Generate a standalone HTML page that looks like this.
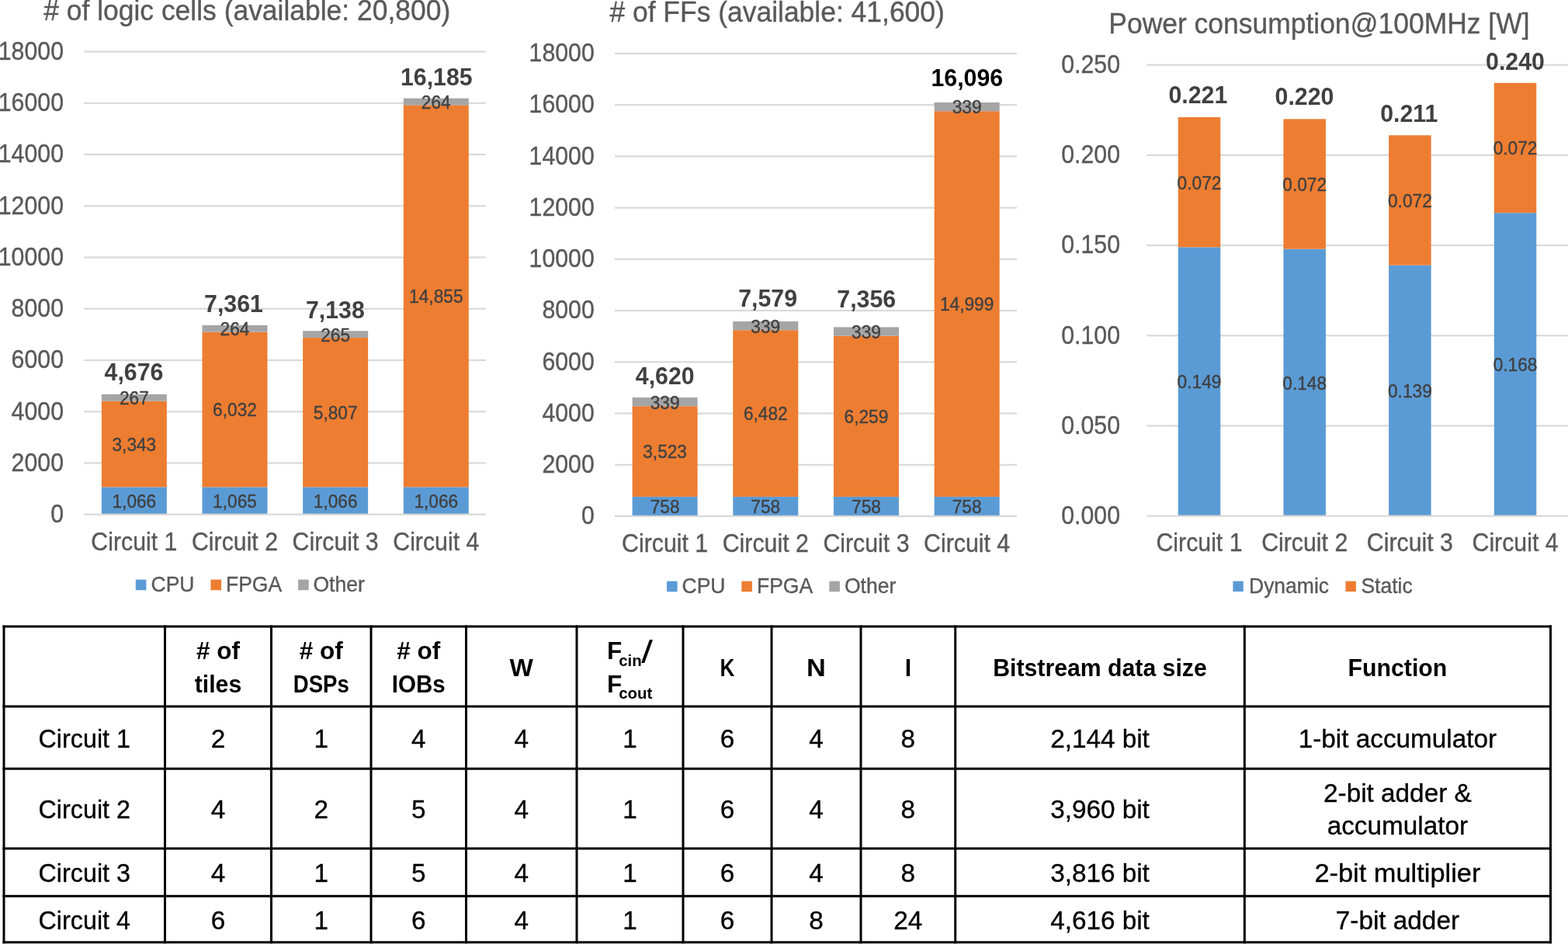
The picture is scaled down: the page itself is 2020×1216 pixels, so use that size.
<!DOCTYPE html><html><head><meta charset="utf-8"><title>FPGA resource charts</title><style>html,body{margin:0;padding:0;background:#fff;width:2020px;height:1216px;overflow:hidden}</style></head><body><svg width="2020" height="1216" viewBox="0 0 2020 1216" style="display:block" font-family="'Liberation Sans', Arial, Helvetica, sans-serif"><rect width="2020" height="1216" fill="#fff"/><text transform="translate(82.00 673.00) scale(1 1.11)" font-size="30.3" fill="#595959" text-anchor="end" stroke="#595959" stroke-width="0.35">0</text><rect x="108.00" y="595.36" width="518.00" height="2.20" fill="#D9D9D9"/><text transform="translate(82.00 606.76) scale(1 1.11)" font-size="30.3" fill="#595959" text-anchor="end" stroke="#595959" stroke-width="0.35">2000</text><rect x="108.00" y="529.12" width="518.00" height="2.20" fill="#D9D9D9"/><text transform="translate(82.00 540.52) scale(1 1.11)" font-size="30.3" fill="#595959" text-anchor="end" stroke="#595959" stroke-width="0.35">4000</text><rect x="108.00" y="462.88" width="518.00" height="2.20" fill="#D9D9D9"/><text transform="translate(82.00 474.28) scale(1 1.11)" font-size="30.3" fill="#595959" text-anchor="end" stroke="#595959" stroke-width="0.35">6000</text><rect x="108.00" y="396.64" width="518.00" height="2.20" fill="#D9D9D9"/><text transform="translate(82.00 408.04) scale(1 1.11)" font-size="30.3" fill="#595959" text-anchor="end" stroke="#595959" stroke-width="0.35">8000</text><rect x="108.00" y="330.40" width="518.00" height="2.20" fill="#D9D9D9"/><text transform="translate(82.00 341.80) scale(1 1.11)" font-size="30.3" fill="#595959" text-anchor="end" stroke="#595959" stroke-width="0.35">10000</text><rect x="108.00" y="264.16" width="518.00" height="2.20" fill="#D9D9D9"/><text transform="translate(82.00 275.56) scale(1 1.11)" font-size="30.3" fill="#595959" text-anchor="end" stroke="#595959" stroke-width="0.35">12000</text><rect x="108.00" y="197.92" width="518.00" height="2.20" fill="#D9D9D9"/><text transform="translate(82.00 209.32) scale(1 1.11)" font-size="30.3" fill="#595959" text-anchor="end" stroke="#595959" stroke-width="0.35">14000</text><rect x="108.00" y="131.68" width="518.00" height="2.20" fill="#D9D9D9"/><text transform="translate(82.00 143.08) scale(1 1.11)" font-size="30.3" fill="#595959" text-anchor="end" stroke="#595959" stroke-width="0.35">16000</text><rect x="108.00" y="65.44" width="518.00" height="2.20" fill="#D9D9D9"/><text transform="translate(82.00 76.84) scale(1 1.11)" font-size="30.3" fill="#595959" text-anchor="end" stroke="#595959" stroke-width="0.35">18000</text><text transform="translate(56.20 26.00) scale(1 1.04)" font-size="35.45" fill="#595959" text-anchor="start" stroke="#595959" stroke-width="0.35"># of logic cells (available: 20,800)</text><rect x="130.85" y="627.39" width="84.00" height="35.31" fill="#5B9BD5"/><rect x="130.85" y="516.67" width="84.00" height="110.72" fill="#ED7D31"/><rect x="130.85" y="507.83" width="84.00" height="8.84" fill="#A5A5A5"/><text transform="translate(172.85 653.95) scale(1 1.05)" font-size="22.7" fill="#404040" text-anchor="middle" stroke="#404040" stroke-width="0.35">1,066</text><text transform="translate(172.85 580.93) scale(1 1.05)" font-size="22.7" fill="#404040" text-anchor="middle" stroke="#404040" stroke-width="0.35">3,343</text><text transform="translate(172.85 521.15) scale(1 1.05)" font-size="22.7" fill="#404040" text-anchor="middle" stroke="#404040" stroke-width="0.35">267</text><text transform="translate(172.50 489.90) scale(1 1.065)" font-size="30.3" fill="#404040" text-anchor="middle" font-weight="bold">4,676</text><text transform="translate(172.85 708.60) scale(1 1.11)" font-size="30.3" fill="#595959" text-anchor="middle" stroke="#595959" stroke-width="0.35">Circuit 1</text><rect x="260.50" y="627.43" width="84.00" height="35.27" fill="#5B9BD5"/><rect x="260.50" y="427.65" width="84.00" height="199.78" fill="#ED7D31"/><rect x="260.50" y="418.90" width="84.00" height="8.74" fill="#A5A5A5"/><text transform="translate(302.50 653.96) scale(1 1.05)" font-size="22.7" fill="#404040" text-anchor="middle" stroke="#404040" stroke-width="0.35">1,065</text><text transform="translate(302.50 536.44) scale(1 1.05)" font-size="22.7" fill="#404040" text-anchor="middle" stroke="#404040" stroke-width="0.35">6,032</text><text transform="translate(302.50 432.18) scale(1 1.05)" font-size="22.7" fill="#404040" text-anchor="middle" stroke="#404040" stroke-width="0.35">264</text><text transform="translate(301.00 401.80) scale(1 1.065)" font-size="30.3" fill="#404040" text-anchor="middle" font-weight="bold">7,361</text><text transform="translate(302.50 708.60) scale(1 1.11)" font-size="30.3" fill="#595959" text-anchor="middle" stroke="#595959" stroke-width="0.35">Circuit 2</text><rect x="390.15" y="627.39" width="84.00" height="35.31" fill="#5B9BD5"/><rect x="390.15" y="435.07" width="84.00" height="192.33" fill="#ED7D31"/><rect x="390.15" y="426.29" width="84.00" height="8.78" fill="#A5A5A5"/><text transform="translate(432.15 653.95) scale(1 1.05)" font-size="22.7" fill="#404040" text-anchor="middle" stroke="#404040" stroke-width="0.35">1,066</text><text transform="translate(432.15 540.13) scale(1 1.05)" font-size="22.7" fill="#404040" text-anchor="middle" stroke="#404040" stroke-width="0.35">5,807</text><text transform="translate(432.15 439.58) scale(1 1.05)" font-size="22.7" fill="#404040" text-anchor="middle" stroke="#404040" stroke-width="0.35">265</text><text transform="translate(431.90 409.60) scale(1 1.065)" font-size="30.3" fill="#404040" text-anchor="middle" font-weight="bold">7,138</text><text transform="translate(432.15 708.60) scale(1 1.11)" font-size="30.3" fill="#595959" text-anchor="middle" stroke="#595959" stroke-width="0.35">Circuit 3</text><rect x="519.80" y="627.39" width="84.00" height="35.31" fill="#5B9BD5"/><rect x="519.80" y="135.40" width="84.00" height="492.00" fill="#ED7D31"/><rect x="519.80" y="126.65" width="84.00" height="8.74" fill="#A5A5A5"/><text transform="translate(561.80 653.95) scale(1 1.05)" font-size="22.7" fill="#404040" text-anchor="middle" stroke="#404040" stroke-width="0.35">1,066</text><text transform="translate(561.80 390.30) scale(1 1.05)" font-size="22.7" fill="#404040" text-anchor="middle" stroke="#404040" stroke-width="0.35">14,855</text><text transform="translate(561.80 139.92) scale(1 1.05)" font-size="22.7" fill="#404040" text-anchor="middle" stroke="#404040" stroke-width="0.35">264</text><text transform="translate(562.30 109.50) scale(1 1.065)" font-size="30.3" fill="#404040" text-anchor="middle" font-weight="bold">16,185</text><text transform="translate(561.80 708.60) scale(1 1.11)" font-size="30.3" fill="#595959" text-anchor="middle" stroke="#595959" stroke-width="0.35">Circuit 4</text><rect x="108.00" y="661.60" width="518.00" height="2.20" fill="#D9D9D9"/><rect x="174.80" y="746.60" width="13.60" height="13.60" fill="#5B9BD5"/><text transform="translate(194.50 761.70) scale(1 1.05)" font-size="26.5" fill="#595959" text-anchor="start" stroke="#595959" stroke-width="0.35">CPU</text><rect x="271.50" y="746.60" width="13.60" height="13.60" fill="#ED7D31"/><text transform="translate(291.00 761.70) scale(1 1.05)" font-size="26.5" fill="#595959" text-anchor="start" stroke="#595959" stroke-width="0.35">FPGA</text><rect x="384.10" y="746.60" width="13.60" height="13.60" fill="#A5A5A5"/><text transform="translate(403.50 761.70) scale(1 1.05)" font-size="26.5" fill="#595959" text-anchor="start" stroke="#595959" stroke-width="0.35">Other</text><text transform="translate(765.80 675.30) scale(1 1.11)" font-size="30.3" fill="#595959" text-anchor="end" stroke="#595959" stroke-width="0.35">0</text><rect x="792.00" y="597.67" width="518.00" height="2.20" fill="#D9D9D9"/><text transform="translate(765.80 609.07) scale(1 1.11)" font-size="30.3" fill="#595959" text-anchor="end" stroke="#595959" stroke-width="0.35">2000</text><rect x="792.00" y="531.44" width="518.00" height="2.20" fill="#D9D9D9"/><text transform="translate(765.80 542.84) scale(1 1.11)" font-size="30.3" fill="#595959" text-anchor="end" stroke="#595959" stroke-width="0.35">4000</text><rect x="792.00" y="465.21" width="518.00" height="2.20" fill="#D9D9D9"/><text transform="translate(765.80 476.61) scale(1 1.11)" font-size="30.3" fill="#595959" text-anchor="end" stroke="#595959" stroke-width="0.35">6000</text><rect x="792.00" y="398.98" width="518.00" height="2.20" fill="#D9D9D9"/><text transform="translate(765.80 410.38) scale(1 1.11)" font-size="30.3" fill="#595959" text-anchor="end" stroke="#595959" stroke-width="0.35">8000</text><rect x="792.00" y="332.75" width="518.00" height="2.20" fill="#D9D9D9"/><text transform="translate(765.80 344.15) scale(1 1.11)" font-size="30.3" fill="#595959" text-anchor="end" stroke="#595959" stroke-width="0.35">10000</text><rect x="792.00" y="266.52" width="518.00" height="2.20" fill="#D9D9D9"/><text transform="translate(765.80 277.92) scale(1 1.11)" font-size="30.3" fill="#595959" text-anchor="end" stroke="#595959" stroke-width="0.35">12000</text><rect x="792.00" y="200.29" width="518.00" height="2.20" fill="#D9D9D9"/><text transform="translate(765.80 211.69) scale(1 1.11)" font-size="30.3" fill="#595959" text-anchor="end" stroke="#595959" stroke-width="0.35">14000</text><rect x="792.00" y="134.06" width="518.00" height="2.20" fill="#D9D9D9"/><text transform="translate(765.80 145.46) scale(1 1.11)" font-size="30.3" fill="#595959" text-anchor="end" stroke="#595959" stroke-width="0.35">16000</text><rect x="792.00" y="67.83" width="518.00" height="2.20" fill="#D9D9D9"/><text transform="translate(765.80 79.23) scale(1 1.11)" font-size="30.3" fill="#595959" text-anchor="end" stroke="#595959" stroke-width="0.35">18000</text><text transform="translate(785.40 28.10) scale(1 1.04)" font-size="35.45" fill="#595959" text-anchor="start" stroke="#595959" stroke-width="0.35"># of FFs (available: 41,600)</text><rect x="814.60" y="639.90" width="84.00" height="25.10" fill="#5B9BD5"/><rect x="814.60" y="523.23" width="84.00" height="116.66" fill="#ED7D31"/><rect x="814.60" y="512.01" width="84.00" height="11.23" fill="#A5A5A5"/><text transform="translate(856.60 661.35) scale(1 1.05)" font-size="22.7" fill="#404040" text-anchor="middle" stroke="#404040" stroke-width="0.35">758</text><text transform="translate(856.60 590.47) scale(1 1.05)" font-size="22.7" fill="#404040" text-anchor="middle" stroke="#404040" stroke-width="0.35">3,523</text><text transform="translate(856.60 526.52) scale(1 1.05)" font-size="22.7" fill="#404040" text-anchor="middle" stroke="#404040" stroke-width="0.35">339</text><text transform="translate(856.70 495.00) scale(1 1.065)" font-size="30.3" fill="#404040" text-anchor="middle" font-weight="bold">4,620</text><text transform="translate(856.60 710.50) scale(1 1.11)" font-size="30.3" fill="#595959" text-anchor="middle" stroke="#595959" stroke-width="0.35">Circuit 1</text><rect x="944.28" y="639.90" width="84.00" height="25.10" fill="#5B9BD5"/><rect x="944.28" y="425.25" width="84.00" height="214.65" fill="#ED7D31"/><rect x="944.28" y="414.02" width="84.00" height="11.23" fill="#A5A5A5"/><text transform="translate(986.28 661.35) scale(1 1.05)" font-size="22.7" fill="#404040" text-anchor="middle" stroke="#404040" stroke-width="0.35">758</text><text transform="translate(986.28 541.47) scale(1 1.05)" font-size="22.7" fill="#404040" text-anchor="middle" stroke="#404040" stroke-width="0.35">6,482</text><text transform="translate(986.28 428.53) scale(1 1.05)" font-size="22.7" fill="#404040" text-anchor="middle" stroke="#404040" stroke-width="0.35">339</text><text transform="translate(989.10 395.40) scale(1 1.065)" font-size="30.3" fill="#404040" text-anchor="middle" font-weight="bold">7,579</text><text transform="translate(986.28 710.50) scale(1 1.11)" font-size="30.3" fill="#595959" text-anchor="middle" stroke="#595959" stroke-width="0.35">Circuit 2</text><rect x="1073.96" y="639.90" width="84.00" height="25.10" fill="#5B9BD5"/><rect x="1073.96" y="432.63" width="84.00" height="207.27" fill="#ED7D31"/><rect x="1073.96" y="421.41" width="84.00" height="11.23" fill="#A5A5A5"/><text transform="translate(1115.96 661.35) scale(1 1.05)" font-size="22.7" fill="#404040" text-anchor="middle" stroke="#404040" stroke-width="0.35">758</text><text transform="translate(1115.96 545.17) scale(1 1.05)" font-size="22.7" fill="#404040" text-anchor="middle" stroke="#404040" stroke-width="0.35">6,259</text><text transform="translate(1115.96 435.92) scale(1 1.05)" font-size="22.7" fill="#404040" text-anchor="middle" stroke="#404040" stroke-width="0.35">339</text><text transform="translate(1116.20 395.60) scale(1 1.065)" font-size="30.3" fill="#404040" text-anchor="middle" font-weight="bold">7,356</text><text transform="translate(1115.96 710.50) scale(1 1.11)" font-size="30.3" fill="#595959" text-anchor="middle" stroke="#595959" stroke-width="0.35">Circuit 3</text><rect x="1203.64" y="639.90" width="84.00" height="25.10" fill="#5B9BD5"/><rect x="1203.64" y="143.21" width="84.00" height="496.69" fill="#ED7D31"/><rect x="1203.64" y="131.98" width="84.00" height="11.23" fill="#A5A5A5"/><text transform="translate(1245.64 661.35) scale(1 1.05)" font-size="22.7" fill="#404040" text-anchor="middle" stroke="#404040" stroke-width="0.35">758</text><text transform="translate(1245.64 400.45) scale(1 1.05)" font-size="22.7" fill="#404040" text-anchor="middle" stroke="#404040" stroke-width="0.35">14,999</text><text transform="translate(1245.64 146.49) scale(1 1.05)" font-size="22.7" fill="#404040" text-anchor="middle" stroke="#404040" stroke-width="0.35">339</text><text transform="translate(1245.80 110.80) scale(1 1.065)" font-size="30.3" fill="#000000" text-anchor="middle" font-weight="bold">16,096</text><text transform="translate(1245.64 710.50) scale(1 1.11)" font-size="30.3" fill="#595959" text-anchor="middle" stroke="#595959" stroke-width="0.35">Circuit 4</text><rect x="792.00" y="663.90" width="518.00" height="2.20" fill="#D9D9D9"/><rect x="859.00" y="748.60" width="13.60" height="13.60" fill="#5B9BD5"/><text transform="translate(878.50 763.70) scale(1 1.05)" font-size="26.5" fill="#595959" text-anchor="start" stroke="#595959" stroke-width="0.35">CPU</text><rect x="955.30" y="748.60" width="13.60" height="13.60" fill="#ED7D31"/><text transform="translate(975.00 763.70) scale(1 1.05)" font-size="26.5" fill="#595959" text-anchor="start" stroke="#595959" stroke-width="0.35">FPGA</text><rect x="1068.30" y="748.60" width="13.60" height="13.60" fill="#A5A5A5"/><text transform="translate(1088.00 763.70) scale(1 1.05)" font-size="26.5" fill="#595959" text-anchor="start" stroke="#595959" stroke-width="0.35">Other</text><text transform="translate(1443.00 675.00) scale(1 1.11)" font-size="30.3" fill="#595959" text-anchor="end" stroke="#595959" stroke-width="0.35">0.000</text><rect x="1477.30" y="547.38" width="542.70" height="2.20" fill="#D9D9D9"/><text transform="translate(1443.00 558.78) scale(1 1.11)" font-size="30.3" fill="#595959" text-anchor="end" stroke="#595959" stroke-width="0.35">0.050</text><rect x="1477.30" y="431.16" width="542.70" height="2.20" fill="#D9D9D9"/><text transform="translate(1443.00 442.56) scale(1 1.11)" font-size="30.3" fill="#595959" text-anchor="end" stroke="#595959" stroke-width="0.35">0.100</text><rect x="1477.30" y="314.94" width="542.70" height="2.20" fill="#D9D9D9"/><text transform="translate(1443.00 326.34) scale(1 1.11)" font-size="30.3" fill="#595959" text-anchor="end" stroke="#595959" stroke-width="0.35">0.150</text><rect x="1477.30" y="198.72" width="542.70" height="2.20" fill="#D9D9D9"/><text transform="translate(1443.00 210.12) scale(1 1.11)" font-size="30.3" fill="#595959" text-anchor="end" stroke="#595959" stroke-width="0.35">0.200</text><rect x="1477.30" y="82.50" width="542.70" height="2.20" fill="#D9D9D9"/><text transform="translate(1443.00 93.90) scale(1 1.11)" font-size="30.3" fill="#595959" text-anchor="end" stroke="#595959" stroke-width="0.35">0.250</text><text transform="translate(1428.30 43.10) scale(1 1.04)" font-size="35.45" fill="#595959" text-anchor="start" stroke="#595959" stroke-width="0.35">Power consumption@100MHz [W]</text><rect x="1517.75" y="318.36" width="54.50" height="346.34" fill="#5B9BD5"/><rect x="1517.75" y="151.01" width="54.50" height="167.36" fill="#ED7D31"/><text transform="translate(1545.00 500.43) scale(1 1.05)" font-size="22.7" fill="#404040" text-anchor="middle" stroke="#404040" stroke-width="0.35">0.149</text><text transform="translate(1545.00 243.59) scale(1 1.05)" font-size="22.7" fill="#404040" text-anchor="middle" stroke="#404040" stroke-width="0.35">0.072</text><text transform="translate(1543.40 133.10) scale(1 1.065)" font-size="30.3" fill="#404040" text-anchor="middle" font-weight="bold">0.221</text><text transform="translate(1545.00 710.00) scale(1 1.11)" font-size="30.3" fill="#595959" text-anchor="middle" stroke="#595959" stroke-width="0.35">Circuit 1</text><rect x="1653.43" y="320.69" width="54.50" height="344.01" fill="#5B9BD5"/><rect x="1653.43" y="153.33" width="54.50" height="167.36" fill="#ED7D31"/><text transform="translate(1680.68 501.59) scale(1 1.05)" font-size="22.7" fill="#404040" text-anchor="middle" stroke="#404040" stroke-width="0.35">0.148</text><text transform="translate(1680.68 245.91) scale(1 1.05)" font-size="22.7" fill="#404040" text-anchor="middle" stroke="#404040" stroke-width="0.35">0.072</text><text transform="translate(1680.50 135.40) scale(1 1.065)" font-size="30.3" fill="#404040" text-anchor="middle" font-weight="bold">0.220</text><text transform="translate(1680.68 710.00) scale(1 1.11)" font-size="30.3" fill="#595959" text-anchor="middle" stroke="#595959" stroke-width="0.35">Circuit 2</text><rect x="1789.11" y="341.61" width="54.50" height="323.09" fill="#5B9BD5"/><rect x="1789.11" y="174.25" width="54.50" height="167.36" fill="#ED7D31"/><text transform="translate(1816.36 512.05) scale(1 1.05)" font-size="22.7" fill="#404040" text-anchor="middle" stroke="#404040" stroke-width="0.35">0.139</text><text transform="translate(1816.36 266.83) scale(1 1.05)" font-size="22.7" fill="#404040" text-anchor="middle" stroke="#404040" stroke-width="0.35">0.072</text><text transform="translate(1815.20 156.70) scale(1 1.065)" font-size="30.3" fill="#404040" text-anchor="middle" font-weight="bold">0.211</text><text transform="translate(1816.36 710.00) scale(1 1.11)" font-size="30.3" fill="#595959" text-anchor="middle" stroke="#595959" stroke-width="0.35">Circuit 3</text><rect x="1924.79" y="274.20" width="54.50" height="390.50" fill="#5B9BD5"/><rect x="1924.79" y="106.84" width="54.50" height="167.36" fill="#ED7D31"/><text transform="translate(1952.04 478.35) scale(1 1.05)" font-size="22.7" fill="#404040" text-anchor="middle" stroke="#404040" stroke-width="0.35">0.168</text><text transform="translate(1952.04 199.42) scale(1 1.05)" font-size="22.7" fill="#404040" text-anchor="middle" stroke="#404040" stroke-width="0.35">0.072</text><text transform="translate(1952.00 89.60) scale(1 1.065)" font-size="30.3" fill="#404040" text-anchor="middle" font-weight="bold">0.240</text><text transform="translate(1952.04 710.00) scale(1 1.11)" font-size="30.3" fill="#595959" text-anchor="middle" stroke="#595959" stroke-width="0.35">Circuit 4</text><rect x="1477.30" y="663.60" width="542.70" height="2.20" fill="#D9D9D9"/><rect x="1588.40" y="748.60" width="13.40" height="13.40" fill="#5B9BD5"/><text transform="translate(1609.00 763.70) scale(1 1.05)" font-size="26.5" fill="#595959" text-anchor="start" stroke="#595959" stroke-width="0.35">Dynamic</text><rect x="1733.50" y="748.60" width="13.40" height="13.40" fill="#ED7D31"/><text transform="translate(1753.40 763.70) scale(1 1.05)" font-size="26.5" fill="#595959" text-anchor="start" stroke="#595959" stroke-width="0.35">Static</text><g font-family="'Liberation Sans', Arial, sans-serif" fill="#000"><rect x="3.50" y="805.50" width="3" height="409.80" fill="#000"/><rect x="211.00" y="805.50" width="3" height="409.80" fill="#000"/><rect x="348.00" y="805.50" width="3" height="409.80" fill="#000"/><rect x="476.50" y="805.50" width="3" height="409.80" fill="#000"/><rect x="599.00" y="805.50" width="3" height="409.80" fill="#000"/><rect x="741.50" y="805.50" width="3" height="409.80" fill="#000"/><rect x="878.50" y="805.50" width="3" height="409.80" fill="#000"/><rect x="992.50" y="805.50" width="3" height="409.80" fill="#000"/><rect x="1107.50" y="805.50" width="3" height="409.80" fill="#000"/><rect x="1229.20" y="805.50" width="3" height="409.80" fill="#000"/><rect x="1601.80" y="805.50" width="3" height="409.80" fill="#000"/><rect x="1996.00" y="805.50" width="3" height="409.80" fill="#000"/><rect x="3.50" y="805.50" width="1995.50" height="3" fill="#000"/><rect x="3.50" y="908.50" width="1995.50" height="3" fill="#000"/><rect x="3.50" y="988.70" width="1995.50" height="3" fill="#000"/><rect x="3.50" y="1091.50" width="1995.50" height="3" fill="#000"/><rect x="3.50" y="1152.80" width="1995.50" height="3" fill="#000"/><rect x="3.50" y="1212.30" width="1995.50" height="3" fill="#000"/><text x="281.00" y="849.20" font-size="31.5" text-anchor="middle" font-weight="bold"># of</text><text transform="translate(281.00 891.60) scale(0.96 1)" font-size="31.5" text-anchor="middle" font-weight="bold">tiles</text><text x="413.75" y="849.20" font-size="31.5" text-anchor="middle" font-weight="bold"># of</text><text transform="translate(413.75 891.60) scale(0.875 1)" font-size="31.5" text-anchor="middle" font-weight="bold">DSPs</text><text x="539.25" y="849.20" font-size="31.5" text-anchor="middle" font-weight="bold"># of</text><text transform="translate(539.25 891.60) scale(0.937 1)" font-size="31.5" text-anchor="middle" font-weight="bold">IOBs</text><text transform="translate(671.75 870.50) scale(1.02 1)" font-size="31.5" text-anchor="middle" font-weight="bold">W</text><text x="782.00" y="849.3" font-size="31.5" font-weight="bold">F</text><text x="797.20" y="857.6" font-size="20.4" font-weight="bold">cin</text><text transform="translate(826.00 853.8) scale(1.35 1)" font-size="40">/</text><text x="782.00" y="891.6" font-size="31.5" font-weight="bold">F</text><text x="797.20" y="900.4" font-size="20.4" font-weight="bold">cout</text><text transform="translate(937.00 870.50) scale(0.83 1)" font-size="31.5" text-anchor="middle" font-weight="bold">K</text><text transform="translate(1051.50 870.50) scale(1.09 1)" font-size="31.5" text-anchor="middle" font-weight="bold">N</text><text transform="translate(1169.85 870.50) scale(0.96 1)" font-size="31.5" text-anchor="middle" font-weight="bold">I</text><text transform="translate(1417.00 870.50) scale(0.96 1)" font-size="31.5" text-anchor="middle" font-weight="bold">Bitstream data size</text><text transform="translate(1800.40 870.50) scale(0.96 1)" font-size="31.5" text-anchor="middle" font-weight="bold">Function</text><text transform="translate(108.75 962.60) scale(0.97 1)" font-size="33.3" text-anchor="middle" stroke="#000" stroke-width="0.35">Circuit 1</text><text x="281.00" y="962.60" font-size="33.3" text-anchor="middle" stroke="#000" stroke-width="0.35">2</text><text x="413.75" y="962.60" font-size="33.3" text-anchor="middle" stroke="#000" stroke-width="0.35">1</text><text x="539.25" y="962.60" font-size="33.3" text-anchor="middle" stroke="#000" stroke-width="0.35">4</text><text x="671.75" y="962.60" font-size="33.3" text-anchor="middle" stroke="#000" stroke-width="0.35">4</text><text x="811.50" y="962.60" font-size="33.3" text-anchor="middle" stroke="#000" stroke-width="0.35">1</text><text x="937.00" y="962.60" font-size="33.3" text-anchor="middle" stroke="#000" stroke-width="0.35">6</text><text x="1051.50" y="962.60" font-size="33.3" text-anchor="middle" stroke="#000" stroke-width="0.35">4</text><text x="1169.85" y="962.60" font-size="33.3" text-anchor="middle" stroke="#000" stroke-width="0.35">8</text><text x="1417.00" y="962.60" font-size="33.3" text-anchor="middle" stroke="#000" stroke-width="0.35">2,144 bit</text><text x="1800.40" y="962.60" font-size="33.3" text-anchor="middle" stroke="#000" stroke-width="0.35">1-bit accumulator</text><text transform="translate(108.75 1054.10) scale(0.97 1)" font-size="33.3" text-anchor="middle" stroke="#000" stroke-width="0.35">Circuit 2</text><text x="281.00" y="1054.10" font-size="33.3" text-anchor="middle" stroke="#000" stroke-width="0.35">4</text><text x="413.75" y="1054.10" font-size="33.3" text-anchor="middle" stroke="#000" stroke-width="0.35">2</text><text x="539.25" y="1054.10" font-size="33.3" text-anchor="middle" stroke="#000" stroke-width="0.35">5</text><text x="671.75" y="1054.10" font-size="33.3" text-anchor="middle" stroke="#000" stroke-width="0.35">4</text><text x="811.50" y="1054.10" font-size="33.3" text-anchor="middle" stroke="#000" stroke-width="0.35">1</text><text x="937.00" y="1054.10" font-size="33.3" text-anchor="middle" stroke="#000" stroke-width="0.35">6</text><text x="1051.50" y="1054.10" font-size="33.3" text-anchor="middle" stroke="#000" stroke-width="0.35">4</text><text x="1169.85" y="1054.10" font-size="33.3" text-anchor="middle" stroke="#000" stroke-width="0.35">8</text><text x="1417.00" y="1054.10" font-size="33.3" text-anchor="middle" stroke="#000" stroke-width="0.35">3,960 bit</text><text x="1800.40" y="1032.80" font-size="33.3" text-anchor="middle" stroke="#000" stroke-width="0.35">2-bit adder &amp;</text><text x="1800.40" y="1074.80" font-size="33.3" text-anchor="middle" stroke="#000" stroke-width="0.35">accumulator</text><text transform="translate(108.75 1136.15) scale(0.97 1)" font-size="33.3" text-anchor="middle" stroke="#000" stroke-width="0.35">Circuit 3</text><text x="281.00" y="1136.15" font-size="33.3" text-anchor="middle" stroke="#000" stroke-width="0.35">4</text><text x="413.75" y="1136.15" font-size="33.3" text-anchor="middle" stroke="#000" stroke-width="0.35">1</text><text x="539.25" y="1136.15" font-size="33.3" text-anchor="middle" stroke="#000" stroke-width="0.35">5</text><text x="671.75" y="1136.15" font-size="33.3" text-anchor="middle" stroke="#000" stroke-width="0.35">4</text><text x="811.50" y="1136.15" font-size="33.3" text-anchor="middle" stroke="#000" stroke-width="0.35">1</text><text x="937.00" y="1136.15" font-size="33.3" text-anchor="middle" stroke="#000" stroke-width="0.35">6</text><text x="1051.50" y="1136.15" font-size="33.3" text-anchor="middle" stroke="#000" stroke-width="0.35">4</text><text x="1169.85" y="1136.15" font-size="33.3" text-anchor="middle" stroke="#000" stroke-width="0.35">8</text><text x="1417.00" y="1136.15" font-size="33.3" text-anchor="middle" stroke="#000" stroke-width="0.35">3,816 bit</text><text transform="translate(1800.40 1136.15) scale(1.033 1)" font-size="33.3" text-anchor="middle" stroke="#000" stroke-width="0.35">2-bit multiplier</text><text transform="translate(108.75 1196.55) scale(0.97 1)" font-size="33.3" text-anchor="middle" stroke="#000" stroke-width="0.35">Circuit 4</text><text x="281.00" y="1196.55" font-size="33.3" text-anchor="middle" stroke="#000" stroke-width="0.35">6</text><text x="413.75" y="1196.55" font-size="33.3" text-anchor="middle" stroke="#000" stroke-width="0.35">1</text><text x="539.25" y="1196.55" font-size="33.3" text-anchor="middle" stroke="#000" stroke-width="0.35">6</text><text x="671.75" y="1196.55" font-size="33.3" text-anchor="middle" stroke="#000" stroke-width="0.35">4</text><text x="811.50" y="1196.55" font-size="33.3" text-anchor="middle" stroke="#000" stroke-width="0.35">1</text><text x="937.00" y="1196.55" font-size="33.3" text-anchor="middle" stroke="#000" stroke-width="0.35">6</text><text x="1051.50" y="1196.55" font-size="33.3" text-anchor="middle" stroke="#000" stroke-width="0.35">8</text><text x="1169.85" y="1196.55" font-size="33.3" text-anchor="middle" stroke="#000" stroke-width="0.35">24</text><text x="1417.00" y="1196.55" font-size="33.3" text-anchor="middle" stroke="#000" stroke-width="0.35">4,616 bit</text><text x="1800.40" y="1196.55" font-size="33.3" text-anchor="middle" stroke="#000" stroke-width="0.35">7-bit adder</text></g></svg></body></html>
